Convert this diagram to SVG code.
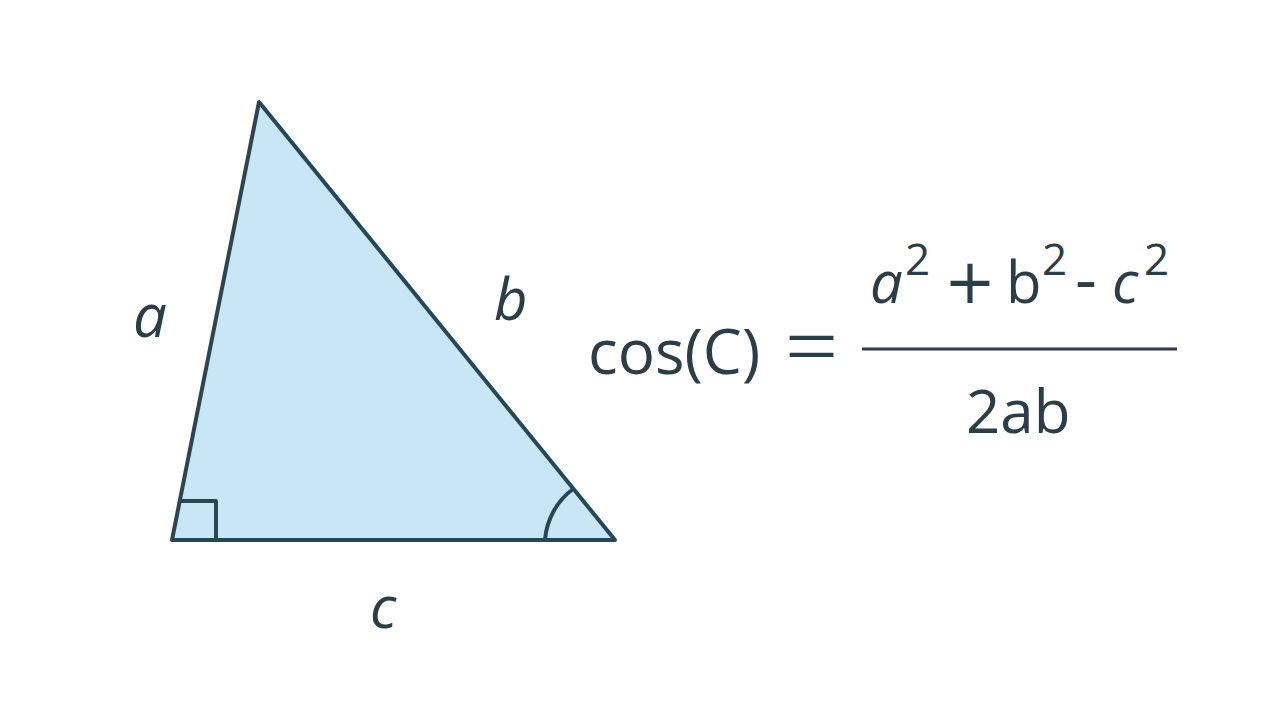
<svg xmlns="http://www.w3.org/2000/svg" width="1280" height="720" viewBox="0 0 1280 720">
<style>
.t{font-family:"Open Sans","Noto Sans","DejaVu Sans",sans-serif;fill:#2b3d46}
.i{font-style:italic}
.m{font-family:"DejaVu Sans",sans-serif;fill:#2b3d46}
.s{font-family:"Liberation Serif",serif;fill:#2b3d46}
.ln{fill:none;stroke:#2a4652;stroke-width:4;stroke-linejoin:round}
</style>
<rect width="1280" height="720" fill="#ffffff"/>
<g id="triangle">
<polygon points="259,102 172,540 615,540" fill="#c8e6f5" stroke="#2a4652" stroke-width="4" stroke-linejoin="round"/>
<polyline class="ln" points="180,501 216,501 216,540"/>
<path class="ln" d="M545,540 A70,70 0 0 1 573,489"/>
</g>
<g id="labels">
<text class="t i" x="133" y="337" font-size="60">a</text>
<text class="t i" x="494" y="320" font-size="58">b</text>
<text class="t i" x="370" y="628" font-size="58">c</text>
</g>
<g id="formula">
<text class="t" x="588" y="374" font-size="62">cos(C)</text>
<text class="s" transform="translate(785,375) scale(1.12,1)" x="0" y="0" font-size="84">=</text>
<line x1="862" y1="349" x2="1177" y2="349" stroke="#2b3d46" stroke-width="3"/>
<text class="t i" x="870" y="303" font-size="58">a</text>
<text class="t" x="905" y="275" font-size="44">2</text>
<text class="m" x="944" y="303" font-size="62">+</text>
<text class="t" x="1006" y="303" font-size="58">b</text>
<text class="t" x="1042" y="275" font-size="44">2</text>
<text class="t" x="1075" y="303" font-size="68">-</text>
<text class="t i" x="1112" y="303" font-size="58">c</text>
<text class="t" x="1144" y="275" font-size="44">2</text>
<text class="t" x="966" y="433" font-size="60">2ab</text>
</g>
</svg>
